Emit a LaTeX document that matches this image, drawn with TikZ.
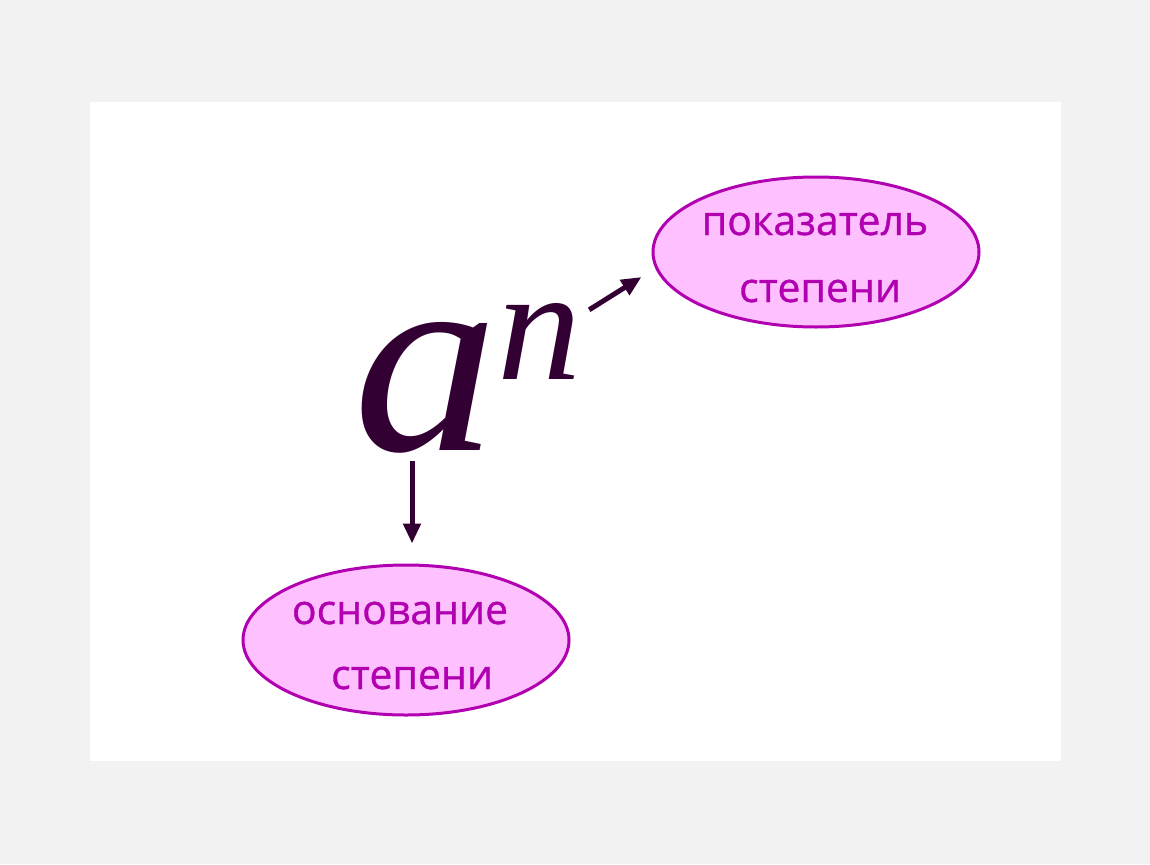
\documentclass[tikz,border=0pt]{standalone}
\usepackage{graphicx}
\usepackage{fontspec}
\newfontfamily\lab[FakeBold=0.8]{Open Sans}
\newfontfamily\glyphfont{Liberation Serif}
\usetikzlibrary{shapes.geometric,arrows.meta,calc}
\definecolor{bg}{HTML}{F2F2F2}
\definecolor{ink}{HTML}{330033}
\definecolor{mag}{HTML}{B000B0}
\definecolor{pinkfill}{HTML}{FFC0FF}
\begin{document}
\begin{tikzpicture}[x=1pt,y=-1pt,
  oval/.style={ellipse,draw=mag,line width=3pt,fill=pinkfill,minimum width=326pt,minimum height=150pt,inner sep=0pt},
  lbl/.style={inner sep=0pt,anchor=base,text=mag,font=\lab\fontsize{41}{50}\selectfont},
  arr/.style={draw=ink,line width=5pt,-{Triangle[length=20pt,width=17pt]}},
  glyph/.style={inner sep=0pt,anchor=base,text=ink,font=\glyphfont\itshape}]
\useasboundingbox (0,0) rectangle (1150,864);
\fill[bg] (0,0) rectangle (1150,864);
\fill[white] (90,102) rectangle (1061,761);
\node[oval] (pok) at (816,252) {};
\node[oval] (osn) at (406,640) {};
\node[lbl] (pok1) at (815,235) {показатель};
\node[lbl] (pok2) at (820,302) {степени};
\node[lbl] (osn1) at (400,624) {основание};
\node[lbl] (osn2) at (412,689) {степени};
\node[glyph] (A) at (426,450) {\resizebox{145pt}{128pt}{a}};
\node[glyph] (N) at (539,379) {\resizebox{84pt}{76pt}{n}};
\draw[arr] ($(A.south)+(-14,8)$) -- ($(osn.north)+(6,-20)$);
\draw[arr] ($(N.north east)+(8,7)$) -- ($(pok.west)+(-10,25)$);
\end{tikzpicture}
\end{document}
